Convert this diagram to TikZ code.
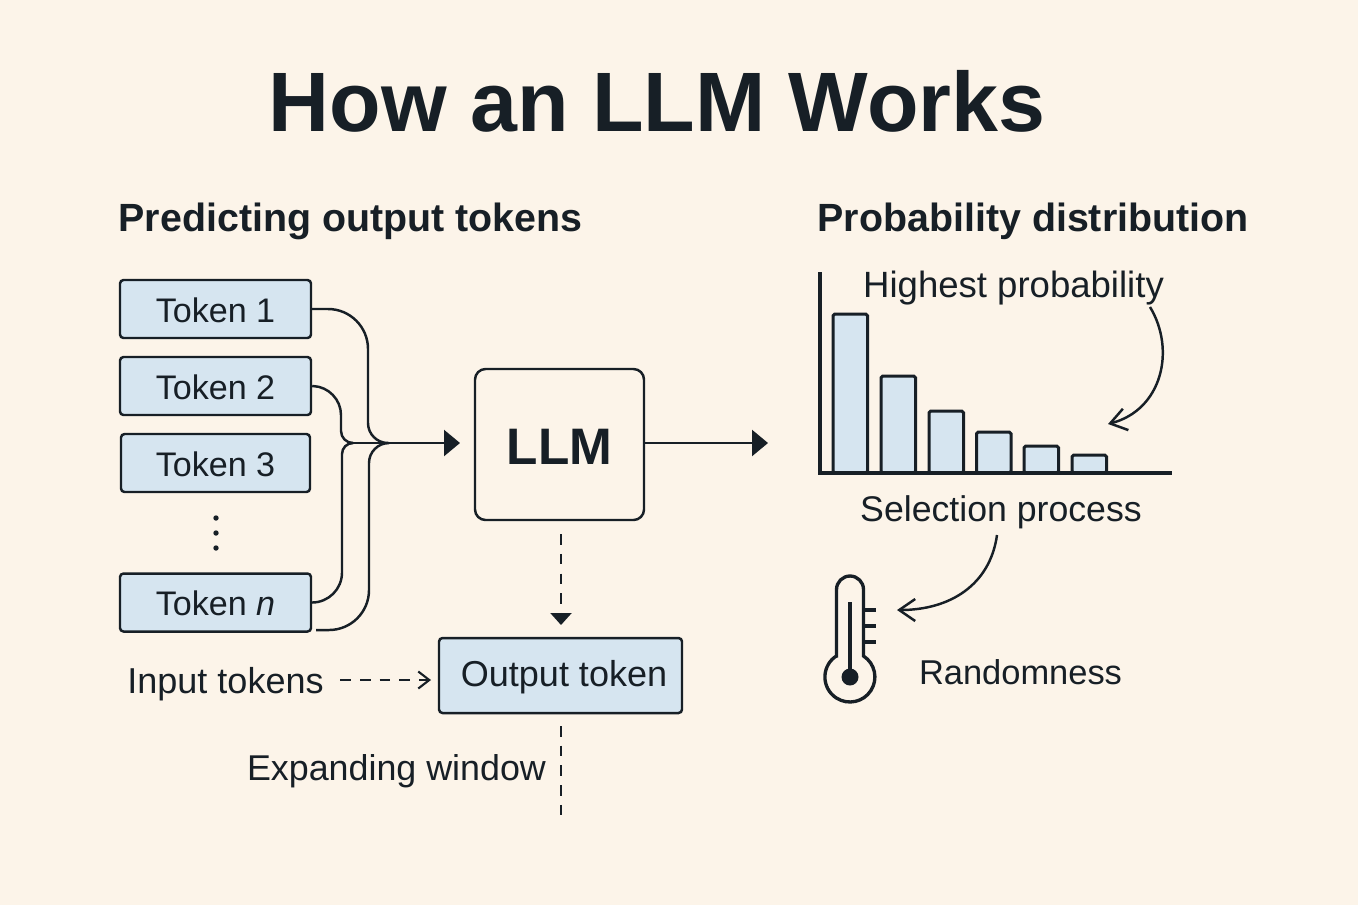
\documentclass[tikz,border=0pt]{standalone}
\usepackage{xcolor}
\usepackage{fontspec}
\setmainfont{Liberation Sans}
\usepackage{tikz}
\usetikzlibrary{arrows.meta}

\definecolor{creambg}{RGB}{252,244,233}
\definecolor{boxblue}{RGB}{214,229,240}
\definecolor{inkdark}{RGB}{23,31,38}

\tikzset{
    tokenbox/.style = {draw = inkdark, fill = boxblue, line width = 0.7pt, rounded corners = 1pt,
        minimum width = 1.91cm, minimum height = 0.58cm, inner sep = 0pt, text = inkdark,
        text height = 7.4pt, text depth = 0pt, font = \fontsize{9.7pt}{12pt}\selectfont},
    plainlabel/.style = {text = inkdark, inner sep = 0pt, font = \fontsize{10.2pt}{12pt}\selectfont},
    headlabel/.style = {text = inkdark, inner sep = 0pt, anchor = west,
        font = \fontsize{11.2pt}{13pt}\selectfont\bfseries},
    wire/.style = {draw = inkdark, line width = 0.7pt},
    solidarrow/.style = {wire, -{Triangle[length = 0.16cm, width = 0.26cm]}},
    dashwire/.style = {wire, dash pattern = on 3pt off 2.6pt, line width = 0.6pt},
    barbarrow/.style = {wire, -{Straight Barb[length = 0.16cm, width = 0.22cm]}},
    bar/.style = {draw = inkdark, fill = boxblue, line width = 0.85pt, rounded corners = 0.5pt},
    thermoline/.style = {wire, line width = 0.95pt},
}

\begin{document}
\begin{tikzpicture}
        \fill[creambg] (0, 0) rectangle (13.58, 9.05);

        % titles
        \node[text = inkdark, inner sep = 0pt, font = \fontsize{24pt}{28pt}\selectfont\bfseries]
            (title) at (6.57, 8.04) {How an LLM Works};
        \node[headlabel] (headleft) at (1.18, 6.84) {Predicting output tokens};
        \node[headlabel] (headright) at (8.17, 6.84) {Probability distribution};

        % left column
        \node[tokenbox] (tok1) at (2.155, 5.96) {Token 1};
        \node[tokenbox] (tok2) at (2.155, 5.19) {Token 2};
        \node[tokenbox, minimum width = 1.89cm] (tok3) at (2.155, 4.42) {Token 3};
        \node[tokenbox] (tokn) at (2.155, 3.025) {Token \textit{n}};
        \foreach \y in {3.87, 3.72, 3.57}
            \fill[inkdark] (2.16, \y) circle(0.027);

        \node[draw = inkdark, line width = 0.7pt, rounded corners = 3pt, minimum width = 1.69cm,
            minimum height = 1.51cm, inner sep = 0pt, text = inkdark, text height = 11.5pt, text depth = 0pt,
            font = \fontsize{14.6pt}{18pt}\selectfont\bfseries] (llm) at (5.595, 4.605) {LLM};
        \node[tokenbox, minimum width = 2.43cm, minimum height = 0.75cm, text height = 7.3pt, text depth = 1.3pt,
            font = \fontsize{10.25pt}{12pt}\selectfont] (output) at (5.605, 2.295) {\hspace*{0.07cm}Output token};

        \coordinate (joinin) at (3.53, 4.62);
        \coordinate (joinout) at (3.88, 4.62);
        \coordinate (llmin) at (4.60, 4.62);
        \coordinate (probin) at (7.68, 4.62);
        \coordinate (tokncorner) at (3.16, 2.75);

        \draw[wire] (tok1.east) [rounded corners = 0.4cm] -- (3.68, 5.96) [rounded corners = 0.2cm] -- (3.68, 4.62) -- (joinout);
        \draw[wire] (tokn.east) [rounded corners = 0.3cm] -- (3.42, 3.025) [rounded corners = 0.11cm] -- (3.42, 4.62) -- (joinin);
        \draw[wire] (tok2.east) [rounded corners = 0.28cm] -- (3.41, 5.18) [rounded corners = 0.12cm] -- (3.41, 4.62) -- (joinin);
        \draw[wire] (tokncorner) [rounded corners = 0.4cm] -- (3.69, 2.75) [rounded corners = 0.2cm] -- (3.69, 4.62) -- (joinout);
        \draw[wire] (joinin) -- (joinout);
        \draw[solidarrow] (joinout) -- (llmin);
        \draw[solidarrow] (llm.east |- probin) -- (probin);

        \coordinate (outtop) at (5.61, 2.67);
        \coordinate (outbottom) at (5.61, 1.92);
        \draw[dashwire, -{Triangle[length = 0.12cm, width = 0.21cm]}, shorten <= 0.13cm, shorten >= 0.13cm]
            (llm.south -| outtop) -- (outtop);

        \node[plainlabel, font = \fontsize{10.25pt}{12pt}\selectfont] (inputlabel) at (2.255, 2.205) {Input tokens};
        \coordinate (inputend) at (4.31, 2.25);
        \draw[dashwire, -{Straight Barb[length = 0.11cm, width = 0.17cm]}, shorten <= 0.16cm]
            (inputlabel.east |- inputend) -- (inputend);

        \node[plainlabel] (expandlabel) at (3.965, 1.335) {Expanding window};
        \coordinate (windowend) at (5.61, 0.90);
        \draw[dashwire, shorten <= 0.13cm] (outbottom) -- (windowend);

        % chart
        \foreach \x/\top in {8.33/5.91, 8.81/5.29, 9.29/4.94, 9.765/4.73, 10.24/4.59, 10.72/4.50}
            \draw[bar] (\x, 4.32) rectangle (\x + 0.345, \top);
        \draw[wire, line width = 0.9pt] (8.20, 6.33) -- (8.20, 4.32) -- (11.72, 4.32);

        \node[plainlabel, font = \fontsize{10.4pt}{12pt}\selectfont] (highlabel) at (10.135, 6.165) {Highest probability};
        \node[plainlabel, font = \fontsize{10.15pt}{12pt}\selectfont] (sellabel) at (10.01, 3.93) {Selection process};
        \node[plainlabel, font = \fontsize{9.8pt}{12pt}\selectfont] (randlabel) at (10.205, 2.33) {Randomness};
        \coordinate (highstart) at (11.50, 5.98);
        \coordinate (hightip) at (11.08, 4.81);
        \coordinate (selstart) at (9.97, 3.70);
        \coordinate (thermotip) at (8.97, 2.95);
        \draw[barbarrow] (highstart) .. controls (11.76, 5.55) and (11.62, 4.95) .. (hightip);
        \draw[barbarrow] (selstart) .. controls (9.90, 3.20) and (9.50, 2.95) .. (thermotip);

        % thermometer
        \draw[thermoline] (8.365, 2.49) -- (8.365, 3.155)
            arc (180 : 0 : 0.135) -- (8.635, 2.49)
            arc (57 : -237 : 0.25) -- cycle;
        \draw[thermoline] (8.50, 3.03) -- (8.50, 2.28);
        \fill[inkdark] (8.50, 2.28) circle(0.085);
        \foreach \y in {2.95, 2.79, 2.63}
            \draw[thermoline] (8.635, \y) -- (8.76, \y);
    \end{tikzpicture}
\end{document}
